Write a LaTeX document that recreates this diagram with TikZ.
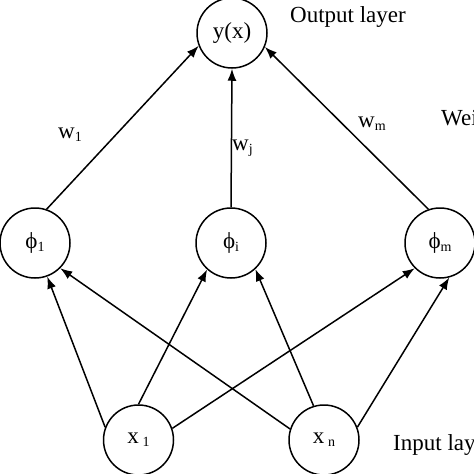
\documentclass[tikz,border=0pt]{standalone}
\usepackage{fontspec}
\setmainfont{Liberation Serif}
\usetikzlibrary{arrows.meta}
\newcommand{\lowidx}[1]{\raisebox{-3pt}{\fontsize{14}{14}\selectfont #1}}

\begin{document}
\begin{tikzpicture}[x=1pt,y=-1pt,
        neuron/.style={draw, line width=1.5pt, circle, minimum size=70pt, inner sep=0pt, font=\fontsize{23}{25}\selectfont},
        conn/.style={line width=1.5pt, -{Latex[length=12pt,width=9pt]}},
        lbl/.style={font=\fontsize{23}{25}\selectfont, inner sep=0pt}]
        \useasboundingbox (0,0) rectangle (474,474);
        \clip (0,0) rectangle (474,474);
        % neurons
        \node[neuron] (out) at (232,33) {y(x)};
        \node[neuron] (phi1) at (35,243) {ϕ\lowidx{1}};
        \node[neuron] (phii) at (231,243) {ϕ\lowidx{i}};
        \node[neuron] (phim) at (440,243) {ϕ\lowidx{m}};
        \node[neuron] (x1) at (138.5,440) {x\,\lowidx{1}};
        \node[neuron] (xn) at (324,440) {x\,\lowidx{n}};
        % connections
        \foreach \src/\a/\dst/\b in {x1/159/phi1/290, xn/162/phi1/315,
                x1/90/phii/228, xn/107/phii/313,
                x1/19/phim/225, xn/21/phim/285,
                phi1/71/out/201, phii/90/out/270, phim/109/out/337} {
            \draw[conn] (\src.\a) -- (\dst.\b);
        }
        % weights
        \node[lbl, anchor=base west] (w1) at (58,138) {w\lowidx{1}};
        \node[lbl, anchor=base west] (wj) at (232,150) {w\lowidx{j}};
        \node[lbl, anchor=base west] (wm) at (358,127) {w\lowidx{m}};
        % layer names
        \node[lbl, anchor=base west] (outlbl) at (290,22) {Output layer};
        \node[lbl, anchor=base west] (wlbl) at (441,125) {Weights};
        \node[lbl, anchor=base west] (inlbl) at (393,450) {Input layer};
\end{tikzpicture}
\end{document}
